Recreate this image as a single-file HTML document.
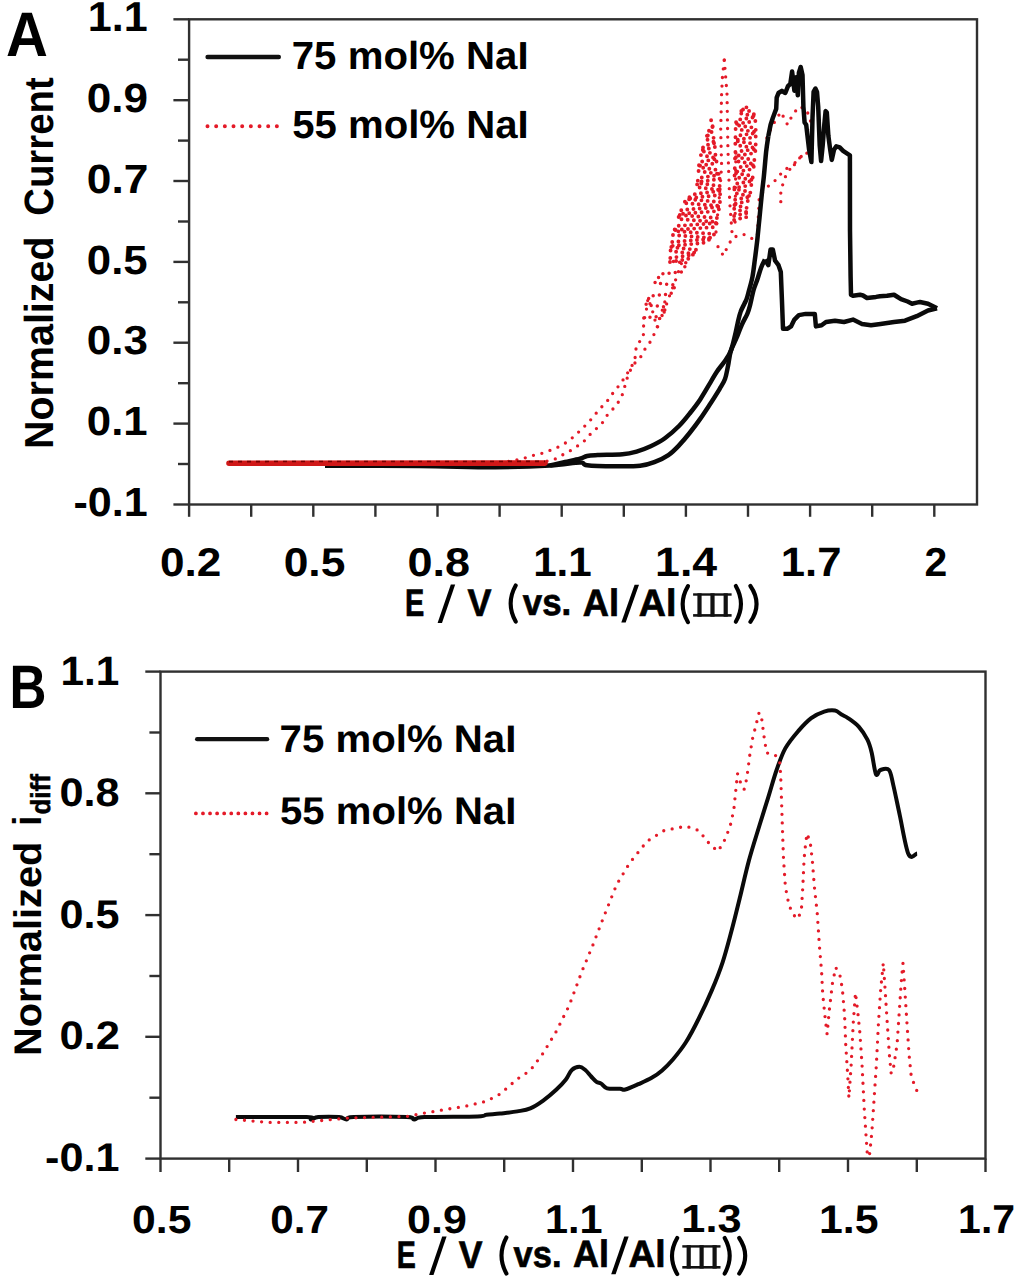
<!DOCTYPE html>
<html><head><meta charset="utf-8"><style>
html,body{margin:0;padding:0;background:#fff;width:1018px;height:1280px;overflow:hidden}
svg{display:block}
text{font-family:"Liberation Sans", sans-serif;font-weight:bold;fill:#000;text-rendering:geometricPrecision}
</style></head><body>
<svg width="1018" height="1280" viewBox="0 0 1018 1280">
<g stroke-linecap="butt">
<rect x="189.1" y="19.3" width="787.9" height="485.2" fill="none" stroke="#303030" stroke-width="2.4"/>
<line x1="173.4" y1="19.3" x2="189.1" y2="19.3" stroke="#303030" stroke-width="2.4"/>
<line x1="178.0" y1="59.7" x2="189.1" y2="59.7" stroke="#303030" stroke-width="2.4"/>
<line x1="173.4" y1="100.2" x2="189.1" y2="100.2" stroke="#303030" stroke-width="2.4"/>
<line x1="178.0" y1="140.6" x2="189.1" y2="140.6" stroke="#303030" stroke-width="2.4"/>
<line x1="173.4" y1="181.0" x2="189.1" y2="181.0" stroke="#303030" stroke-width="2.4"/>
<line x1="178.0" y1="221.5" x2="189.1" y2="221.5" stroke="#303030" stroke-width="2.4"/>
<line x1="173.4" y1="261.9" x2="189.1" y2="261.9" stroke="#303030" stroke-width="2.4"/>
<line x1="178.0" y1="302.3" x2="189.1" y2="302.3" stroke="#303030" stroke-width="2.4"/>
<line x1="173.4" y1="342.7" x2="189.1" y2="342.7" stroke="#303030" stroke-width="2.4"/>
<line x1="178.0" y1="383.2" x2="189.1" y2="383.2" stroke="#303030" stroke-width="2.4"/>
<line x1="173.4" y1="423.6" x2="189.1" y2="423.6" stroke="#303030" stroke-width="2.4"/>
<line x1="178.0" y1="464.0" x2="189.1" y2="464.0" stroke="#303030" stroke-width="2.4"/>
<line x1="173.4" y1="504.5" x2="189.1" y2="504.5" stroke="#303030" stroke-width="2.4"/>
<line x1="189.1" y1="504.5" x2="189.1" y2="516.8" stroke="#303030" stroke-width="2.4"/>
<line x1="251.2" y1="504.5" x2="251.2" y2="516.8" stroke="#303030" stroke-width="2.4"/>
<line x1="313.3" y1="504.5" x2="313.3" y2="516.8" stroke="#303030" stroke-width="2.4"/>
<line x1="375.4" y1="504.5" x2="375.4" y2="516.8" stroke="#303030" stroke-width="2.4"/>
<line x1="437.5" y1="504.5" x2="437.5" y2="516.8" stroke="#303030" stroke-width="2.4"/>
<line x1="499.6" y1="504.5" x2="499.6" y2="516.8" stroke="#303030" stroke-width="2.4"/>
<line x1="561.7" y1="504.5" x2="561.7" y2="516.8" stroke="#303030" stroke-width="2.4"/>
<line x1="623.8" y1="504.5" x2="623.8" y2="516.8" stroke="#303030" stroke-width="2.4"/>
<line x1="685.9" y1="504.5" x2="685.9" y2="516.8" stroke="#303030" stroke-width="2.4"/>
<line x1="748.0" y1="504.5" x2="748.0" y2="516.8" stroke="#303030" stroke-width="2.4"/>
<line x1="810.1" y1="504.5" x2="810.1" y2="516.8" stroke="#303030" stroke-width="2.4"/>
<line x1="872.2" y1="504.5" x2="872.2" y2="516.8" stroke="#303030" stroke-width="2.4"/>
<line x1="934.3" y1="504.5" x2="934.3" y2="516.8" stroke="#303030" stroke-width="2.4"/>
<rect x="160.5" y="671.6" width="825.0" height="487.0" fill="none" stroke="#303030" stroke-width="2.4"/>
<line x1="145.3" y1="671.6" x2="160.5" y2="671.6" stroke="#303030" stroke-width="2.4"/>
<line x1="149.4" y1="732.5" x2="160.5" y2="732.5" stroke="#303030" stroke-width="2.4"/>
<line x1="145.3" y1="793.3" x2="160.5" y2="793.3" stroke="#303030" stroke-width="2.4"/>
<line x1="149.4" y1="854.2" x2="160.5" y2="854.2" stroke="#303030" stroke-width="2.4"/>
<line x1="145.3" y1="915.1" x2="160.5" y2="915.1" stroke="#303030" stroke-width="2.4"/>
<line x1="149.4" y1="976.0" x2="160.5" y2="976.0" stroke="#303030" stroke-width="2.4"/>
<line x1="145.3" y1="1036.8" x2="160.5" y2="1036.8" stroke="#303030" stroke-width="2.4"/>
<line x1="149.4" y1="1097.7" x2="160.5" y2="1097.7" stroke="#303030" stroke-width="2.4"/>
<line x1="145.3" y1="1158.6" x2="160.5" y2="1158.6" stroke="#303030" stroke-width="2.4"/>
<line x1="160.5" y1="1158.6" x2="160.5" y2="1172.0" stroke="#303030" stroke-width="2.4"/>
<line x1="229.2" y1="1158.6" x2="229.2" y2="1172.0" stroke="#303030" stroke-width="2.4"/>
<line x1="298.0" y1="1158.6" x2="298.0" y2="1172.0" stroke="#303030" stroke-width="2.4"/>
<line x1="366.8" y1="1158.6" x2="366.8" y2="1172.0" stroke="#303030" stroke-width="2.4"/>
<line x1="435.5" y1="1158.6" x2="435.5" y2="1172.0" stroke="#303030" stroke-width="2.4"/>
<line x1="504.2" y1="1158.6" x2="504.2" y2="1172.0" stroke="#303030" stroke-width="2.4"/>
<line x1="573.0" y1="1158.6" x2="573.0" y2="1172.0" stroke="#303030" stroke-width="2.4"/>
<line x1="641.8" y1="1158.6" x2="641.8" y2="1172.0" stroke="#303030" stroke-width="2.4"/>
<line x1="710.5" y1="1158.6" x2="710.5" y2="1172.0" stroke="#303030" stroke-width="2.4"/>
<line x1="779.2" y1="1158.6" x2="779.2" y2="1172.0" stroke="#303030" stroke-width="2.4"/>
<line x1="848.0" y1="1158.6" x2="848.0" y2="1172.0" stroke="#303030" stroke-width="2.4"/>
<line x1="916.8" y1="1158.6" x2="916.8" y2="1172.0" stroke="#303030" stroke-width="2.4"/>
<line x1="985.5" y1="1158.6" x2="985.5" y2="1172.0" stroke="#303030" stroke-width="2.4"/>
</g>
<g fill="none" stroke-linejoin="round">
<path d="M500.0,463.0 L522.0,458.9 L534.7,454.9 L541.6,453.4 L548.5,451.0 L556.3,448.0 L563.7,444.1 L569.6,440.2 L574.0,436.3 L578.9,431.8 L583.4,427.4 L587.8,423.0 L592.7,417.6 L596.6,412.7 L601.0,407.8 L605.0,402.9 L609.4,398.9 L613.2,392.6 L617.1,388.3 L620.6,382.4 L625.1,377.8 L628.3,371.5 L632.2,365.2 L635.0,359.7 L635.5,350.7 L637.7,343.2 L643.2,338.5 L643.6,330.6 L643.6,322.0 L645.6,313.8 L647.2,305.5 L648.0,298.0 L652.8,312.0 L657.0,327.5 L661.3,313.4 L666.9,295.2" stroke="#e41a28" stroke-width="3.3" stroke-dasharray="0 8.6" stroke-linecap="round"/>
<path d="M530.0,463.5 L545.0,461.5 L553.4,459.8 L559.3,456.9 L564.2,453.9 L570.6,450.5 L576.5,446.6 L582.4,443.1 L586.8,438.2 L590.7,433.8 L595.1,429.9 L599.6,425.5 L604.0,421.0 L606.9,415.6 L611.4,410.7 L615.8,405.8 L619.2,400.9 L622.2,395.0 L624.6,387.1 L626.9,378.9 L630.0,371.0 L634.0,364.0 L640.9,356.6 L644.0,350.3 L647.9,345.6 L651.5,339.7 L655.8,330.6 L658.9,324.4 L659.7,316.5 L663.7,313.8 L667.6,300.8 L672.5,288.1 L676.7,276.9 L681.0,264.2 L683.8,260.0" stroke="#e41a28" stroke-width="3.3" stroke-dasharray="0 8.6" stroke-linecap="round"/>
<path d="M670.0,262.0 L688.0,259.0 L693.6,254.0 L670.5,251.0 L671.0,246.0 L703.0,243.0 L712.4,238.0 L672.8,235.0 L675.1,230.0 L715.4,227.0 L716.9,222.0 L677.6,219.0 L680.2,214.0 L718.4,211.0 L719.9,206.0 L682.7,203.0 L691.0,198.0 L720.1,195.0 L720.1,190.0 L696.2,187.0 L698.0,182.0 L719.7,179.0 L718.3,174.0 L698.5,171.0 L699.0,166.0 L716.9,163.0 L715.6,158.0 L700.4,155.0 L702.6,150.0 L715.0,147.0 L714.4,142.0 L705.1,139.0 L708.0,134.0 L713.4,131.0 L712.2,126.0 L710.2,123.0" stroke="#e41a28" stroke-width="3.9" stroke-dasharray="0 6.2" stroke-linecap="round"/>
<path d="M670.3,258.0 L690.8,255.0 L697.7,250.0 L670.8,247.0 L671.6,242.0 L708.3,239.0 L714.6,234.0 L673.9,231.0 L676.4,226.0 L716.1,223.0 L717.6,218.0 L678.9,215.0 L681.4,210.0 L719.2,207.0 L720.1,202.0 L686.4,199.0 L695.1,194.0 L720.1,191.0 L720.1,186.0 L697.4,183.0 L698.3,178.0 L719.0,175.0 L717.6,170.0 L698.8,167.0 L699.3,162.0 L716.2,159.0 L715.3,154.0 L701.5,151.0 L703.7,146.0 L714.7,143.0 L714.0,138.0 L706.6,135.0 L709.4,130.0 L712.8,127.0 L711.6,122.0 L710.8,119.0" stroke="#e41a28" stroke-width="3.9" stroke-dasharray="0 6.2" stroke-linecap="round"/>
<path d="M734.1,220.0 L746.7,217.0 L746.7,212.0 L734.2,209.0 L734.3,204.0 L748.0,201.0 L749.7,196.0 L734.3,193.0 L734.4,188.0 L751.3,185.0 L752.5,180.0 L734.5,177.0 L734.7,172.0 L753.4,169.0 L754.2,164.0 L734.9,161.0 L735.1,156.0 L755.1,153.0 L755.7,148.0 L735.3,145.0 L735.4,140.0 L755.7,137.0 L755.7,132.0 L735.6,129.0 L735.8,124.0 L755.7,121.0 L754.0,116.0 L738.6,113.0 L745.1,108.0 L751.4,105.0" stroke="#e41a28" stroke-width="3.9" stroke-dasharray="0 6.2" stroke-linecap="round"/>
<path d="M734.1,216.0 L746.7,213.0 L747.2,208.0 L734.2,205.0 L734.3,200.0 L748.8,197.0 L750.5,192.0 L734.4,189.0 L734.5,184.0 L752.1,181.0 L752.9,176.0 L734.6,173.0 L734.8,168.0 L753.8,165.0 L754.6,160.0 L735.0,157.0 L735.2,152.0 L755.5,149.0 L755.7,144.0 L735.4,141.0 L735.5,136.0 L755.7,133.0 L755.7,128.0 L735.7,125.0 L736.4,120.0 L755.4,117.0 L752.7,112.0 L740.9,109.0" stroke="#e41a28" stroke-width="3.9" stroke-dasharray="0 6.2" stroke-linecap="round"/>
<path d="M643.8,318.0 L661.8,316.0 L666.3,307.0 L645.8,305.0 L649.8,296.0 L670.8,294.0 L675.8,285.0 L654.8,283.0 L660.9,274.0 L681.3,272.0 L687.4,263.0 L669.2,261.0" stroke="#e41a28" stroke-width="3.5" stroke-dasharray="0 6.2" stroke-linecap="round"/>
<path d="M716.0,232.0 L717.1,219.7 L719.8,192.8 L721.6,165.8 L720.7,129.9 L721.6,93.9 L722.5,75.9 L724.3,59.8" stroke="#e41a28" stroke-width="3.3" stroke-dasharray="0 8.6" stroke-linecap="round"/>
<path d="M724.3,59.8 L727.0,93.9 L727.9,147.8 L729.7,201.7 L732.4,237.7" stroke="#e41a28" stroke-width="3.3" stroke-dasharray="0 8.6" stroke-linecap="round"/>
<path d="M735.9,153.2 L735.0,228.7" stroke="#e41a28" stroke-width="3.3" stroke-dasharray="0 8.6" stroke-linecap="round"/>
<path d="M718.0,246.7 L723.4,255.7 L726.0,250.0 L732.4,237.7 L743.1,234.1 L753.9,239.5 L757.5,234.1" stroke="#e41a28" stroke-width="3.3" stroke-dasharray="0 8.6" stroke-linecap="round"/>
<path d="M757.5,234.1 L759.3,196.4 L766.0,188.0 L775.5,180.2 L784.5,169.4 L793.5,165.8 L800.6,156.8 L810.0,151.4 L812.5,140.6 L810.2,118.0 L805.7,108.9 L798.9,106.6 L792.1,115.7 L787.6,124.8 L780.9,111.9 L771.9,126.3 L766.0,140.0" stroke="#e41a28" stroke-width="3.3" stroke-dasharray="0 8.6" stroke-linecap="round"/>
<path d="M801.2,156.5 L792.1,165.5 L785.3,176.9 L780.8,190.5 L780.8,206.3" stroke="#e41a28" stroke-width="3.3" stroke-dasharray="0 8.6" stroke-linecap="round"/>
<path d="M325.0,465.8 C340.8,465.8 391.7,465.8 420.0,466.0 C448.3,466.2 473.3,467.3 495.0,467.2 C516.7,467.1 535.8,466.3 550.0,465.5 C564.2,464.7 573.8,462.4 580.0,462.4 C586.2,462.3 581.2,464.5 587.1,465.2 C593.0,465.9 606.6,466.2 615.4,466.3 C624.2,466.4 633.6,466.5 640.1,465.8 C646.6,465.1 649.6,464.0 654.3,462.2 C659.0,460.4 664.3,457.9 668.4,455.1 C672.5,452.3 675.5,449.1 679.0,445.4 C682.5,441.7 686.1,437.4 689.6,433.0 C693.1,428.6 696.7,423.9 700.2,418.9 C703.7,413.9 707.5,408.0 710.8,403.0 C714.0,398.0 717.3,392.8 719.7,388.8 C722.1,384.8 723.6,382.8 725.0,379.0 C726.4,375.2 727.0,370.7 728.0,366.0 C729.0,361.3 729.4,355.6 730.8,351.0 C732.2,346.4 734.5,342.9 736.3,338.5 C738.1,334.1 740.0,328.9 741.8,324.8 C743.6,320.7 745.9,317.0 747.3,313.8 C748.7,310.6 749.0,309.5 750.0,305.5 C751.0,301.5 752.4,294.4 753.6,290.0 C754.9,285.6 756.3,282.7 757.5,279.0 C758.7,275.3 759.8,271.2 761.0,268.0 C762.2,264.8 764.2,261.0 764.9,259.6" stroke="#0a0a0a" stroke-width="4.5"/>
<path d="M764.9,259.6 L768.3,265.2 L770.6,249.4 L772.8,249.4 L775.1,260.7 L778.5,265.2 L780.8,272.0 L781.9,299.2 L783.0,328.7 L787.6,328.7 L791.0,326.4 L794.4,319.6 L798.9,315.1 L805.7,313.9 L814.8,313.9 L815.9,326.4 L821.6,325.3 L826.0,322.0 L835.0,320.7 L844.0,322.0 L853.0,319.6 L862.0,324.0 L871.0,325.3 L880.5,324.0 L894.0,322.0 L905.0,320.7 L916.7,316.2 L928.0,310.5 L937.0,308.3" stroke="#0a0a0a" stroke-width="4.5"/>
<path d="M937.0,308.3 L928.0,303.7 L920.0,302.0 L916.7,302.6 L912.0,303.7 L907.6,301.5 L901.0,299.2 L896.0,296.0 L894.0,294.7 L887.0,295.8 L880.0,296.2 L876.0,296.9 L867.0,298.0 L863.0,295.5 L860.0,294.7 L853.0,295.8 L851.0,294.7 L850.6,276.6 L850.0,231.0 L849.9,155.3 L846.5,153.1 L843.1,150.8 L839.7,147.4 L836.3,146.3 L834.0,149.7 L831.8,159.9 L830.2,149.7 L828.4,136.1 L826.8,112.3 L825.6,111.2 L824.3,124.8 L822.7,145.2 L821.1,161.0 L819.7,145.2 L818.2,106.6 L817.0,91.9 L815.4,88.5 L813.6,91.9 L812.5,118.0 L811.4,162.1 L809.1,149.7 L807.5,136.1 L806.2,124.8 L804.6,122.5 L803.4,106.6 L802.5,74.9 L800.7,67.0 L798.9,72.7 L797.8,95.3 L796.2,77.2 L794.4,90.8 L792.1,71.5 L790.3,84.0 L788.0,86.2 L785.3,93.0 L781.9,90.8 L778.5,93.0 L776.7,97.6 L776.2,108.9 L772.8,118.0 L770.6,124.8 L768.3,136.1" stroke="#0a0a0a" stroke-width="4.5"/>
<path d="M768.3,136.1 C767.9,138.7 766.9,145.1 766.1,151.9 C765.4,158.7 764.6,169.3 763.8,176.9 C763.0,184.5 762.2,190.1 761.5,197.3 C760.8,204.5 760.0,212.4 759.3,219.9 C758.5,227.4 757.8,235.8 757.0,242.6 C756.2,249.4 755.5,255.0 754.7,260.7 C754.0,266.4 753.4,271.7 752.5,276.6 C751.6,281.5 750.1,286.4 749.1,290.1 C748.1,293.8 747.4,296.8 746.6,299.0 C745.8,301.2 745.5,301.3 744.5,303.5 C743.5,305.7 741.5,309.1 740.4,312.4 C739.2,315.7 738.5,319.5 737.6,323.4 C736.7,327.3 736.0,331.2 734.9,335.8 C733.8,340.4 732.4,346.8 730.8,350.9 C729.2,355.0 727.6,357.1 725.3,360.5 C723.0,363.9 719.4,367.9 717.0,371.5 C714.6,375.1 713.6,377.2 710.8,381.8 C708.0,386.4 703.7,394.1 700.2,399.4 C696.7,404.7 693.1,409.2 689.6,413.6 C686.1,418.0 683.1,421.9 679.0,426.0 C674.9,430.1 669.6,434.9 664.9,438.3 C660.2,441.7 655.4,444.1 650.7,446.3 C646.0,448.5 641.3,450.3 636.6,451.6 C631.9,452.9 628.9,453.7 622.4,454.3 C615.9,454.9 603.6,454.8 597.7,455.1 C591.8,455.4 590.1,455.4 587.1,456.0 C584.1,456.6 583.7,457.7 580.0,458.7 C576.3,459.7 570.0,460.9 565.0,462.0 C560.0,463.1 552.5,464.9 550.0,465.5" stroke="#0a0a0a" stroke-width="4.5"/>
<path d="M229,463.3 L545,463.1" stroke="#d01818" stroke-width="5.6" stroke-linecap="round"/>
<path d="M229,461.6 L545,461.4" stroke="#700" stroke-width="1.6" stroke-dasharray="4 5"/>
<path d="M235.9,1117.1 C247.7,1117.1 294.1,1116.7 306.6,1117.1 C319.1,1117.5 309.0,1119.5 311.0,1119.5 C313.0,1119.5 313.7,1117.5 318.4,1117.1 C323.1,1116.7 334.3,1116.7 339.0,1117.1 C343.7,1117.5 343.9,1119.5 346.4,1119.5 C348.9,1119.5 343.7,1117.5 353.8,1117.1 C363.9,1116.7 396.7,1116.7 406.8,1117.1 C416.9,1117.5 411.2,1119.5 414.2,1119.5 C417.1,1119.5 413.9,1117.6 424.5,1117.1 C435.1,1116.6 467.3,1116.9 477.6,1116.5 C487.9,1116.1 482.7,1115.3 486.4,1114.8 C490.1,1114.3 494.9,1114.2 500.0,1113.6 C505.1,1113.0 512.2,1112.3 517.3,1111.4 C522.3,1110.5 526.0,1110.2 530.3,1108.4 C534.6,1106.6 538.9,1103.7 543.2,1100.6 C547.5,1097.5 552.4,1093.3 556.2,1089.8 C560.0,1086.3 563.3,1082.8 565.9,1079.5 C568.5,1076.2 569.5,1072.1 571.8,1070.0 C574.0,1067.9 577.1,1066.8 579.4,1066.8 C581.6,1066.8 583.3,1068.4 585.3,1070.0 C587.3,1071.6 589.3,1074.5 591.2,1076.5 C593.1,1078.5 594.8,1080.6 596.5,1081.8 C598.2,1083.0 599.4,1082.5 601.2,1083.6 C603.0,1084.7 604.0,1087.4 607.1,1088.3 C610.2,1089.2 617.0,1088.6 620.0,1088.8 C623.0,1089.0 622.2,1090.3 625.3,1089.5 C628.3,1088.7 634.0,1086.1 638.3,1084.2 C642.6,1082.3 647.3,1080.4 651.3,1078.1 C655.3,1075.8 658.5,1073.5 662.1,1070.4 C665.7,1067.3 668.9,1064.2 672.9,1059.5 C676.9,1054.8 681.6,1049.1 685.9,1042.3 C690.2,1035.5 694.5,1027.2 698.8,1018.5 C703.1,1009.9 707.8,999.8 711.8,990.4 C715.8,981.0 719.4,972.0 722.6,962.3 C725.8,952.6 728.3,942.8 731.2,932.0 C734.1,921.2 737.0,909.3 739.9,897.5 C742.8,885.7 745.6,872.9 748.8,861.0 C752.0,849.1 756.1,836.5 759.3,826.0 C762.5,815.5 765.1,807.4 768.0,798.1 C770.9,788.8 773.7,778.3 776.6,770.0 C779.5,761.7 781.7,754.9 785.3,748.4 C788.9,741.9 793.9,736.1 798.2,731.1 C802.5,726.1 806.9,721.4 811.2,718.1 C815.5,714.9 820.2,712.9 824.2,711.6 C828.2,710.3 832.1,710.0 835.0,710.5 C837.9,711.0 839.3,713.2 841.5,714.5 C843.7,715.8 845.1,716.1 848.0,718.1 C850.9,720.1 855.5,723.1 858.7,726.7 C861.9,730.3 865.2,735.4 867.4,739.7 C869.6,744.0 870.3,746.9 871.7,752.7 C873.1,758.5 874.5,771.4 876.0,774.3 C877.5,777.2 878.2,770.7 880.4,770.0 C882.6,769.3 886.9,767.5 889.0,770.0 C891.1,772.5 891.5,777.6 893.3,785.1 C895.1,792.6 897.3,803.8 899.8,815.3 C902.3,826.8 905.6,847.9 908.5,854.2 C911.4,860.6 915.7,853.5 917.1,853.4" stroke="#0a0a0a" stroke-width="4.0"/>
<path d="M235.9,1119.5 L268.3,1122.4 L302.2,1122.4 L347.9,1118.0 L406.8,1116.5 L421.6,1113.6 L442.2,1110.0 L465.8,1106.2 L486.4,1101.2 L500.0,1094.1 L517.3,1079.0 L530.3,1070.4 L543.2,1053.1 L556.2,1031.5 L569.2,1005.5 L582.1,970.9 L592.9,945.0 L603.7,916.9 L616.7,884.5 L629.7,862.9 L647.0,841.3 L664.2,830.5 L685.9,826.2 L698.8,830.5 L709.4,843.8 L717.8,851.3 L723.4,842.9 L730.0,826.9 L733.8,810.0 L735.6,792.2 L737.5,773.5 L740.3,781.9 L744.1,789.4 L746.0,781.9 L747.8,770.7 L749.7,755.7 L752.5,738.8 L756.3,723.8 L759.1,712.5 L761.9,720.0 L763.8,735.0 L766.6,752.8 L775.0,754.7 L779.7,761.3 L780.7,776.3 L781.6,802.5 L782.5,830.7 L783.5,858.8 L785.4,887.0 L789.1,905.7 L793.8,915.1 L797.5,918.9 L801.3,911.3 L802.8,887.0 L804.1,858.8 L806.0,840.1 L807.3,833.5 L810.7,845.7 L812.5,862.6 L814.4,887.0 L817.2,912.8 L819.4,945.6 L821.6,971.9 L822.7,993.8 L824.9,1015.6 L827.1,1034.2 L829.2,1011.3 L832.5,982.8 L835.8,967.5 L840.2,976.3 L842.4,989.4 L844.6,1015.6 L845.7,1044.1 L847.8,1076.9 L848.9,1097.7 L851.1,1066.0 L853.3,1022.2 L855.5,992.7 L857.7,1011.3 L859.9,1033.1 L862.1,1066.0 L864.3,1109.7 L866.5,1142.5 L867.5,1156.7 L869.7,1153.5 L871.9,1131.6 L874.1,1098.8 L876.3,1066.0 L878.5,1022.2 L880.7,989.4 L883.3,963.1 L885.1,989.4 L887.2,1022.2 L889.4,1055.0 L891.2,1073.6 L893.8,1066.0 L897.1,1044.1 L899.3,1011.3 L901.5,978.4 L903.0,963.1 L904.8,989.4 L906.9,1022.2 L909.1,1055.0 L911.3,1076.9 L917.9,1093.3" stroke="#e41a28" stroke-width="3.3" stroke-dasharray="0 8.6" stroke-linecap="round"/>
<line x1="207.6" y1="57" x2="278.8" y2="57" stroke="#111" stroke-width="4.4" stroke-linecap="round"/><line x1="207.5" y1="126.2" x2="277.5" y2="126.2" stroke="#e41a28" stroke-width="4.0" stroke-dasharray="0 8.67" stroke-linecap="round"/><line x1="197.1" y1="739.2" x2="267.2" y2="739.2" stroke="#111" stroke-width="4.2" stroke-linecap="round"/><line x1="195.9" y1="813.4" x2="267" y2="813.4" stroke="#e41a28" stroke-width="3.8" stroke-dasharray="0 7.07" stroke-linecap="round"/>
</g>
<g>
<text transform="translate(87.79,31.40) scale(1.0296,1)" font-size="41.86">1.1</text>
<text transform="translate(86.86,111.86) scale(1.0837,1)" font-size="40.68">0.9</text>
<text transform="translate(86.85,192.72) scale(1.0894,1)" font-size="40.68">0.7</text>
<text transform="translate(86.87,273.58) scale(1.0761,1)" font-size="40.68">0.5</text>
<text transform="translate(86.86,354.38) scale(1.0851,1)" font-size="40.59">0.3</text>
<text transform="translate(86.87,435.30) scale(1.0761,1)" font-size="40.68">0.1</text>
<text transform="translate(73.42,516.16) scale(1.0598,1)" font-size="40.68">-0.1</text>
<text transform="translate(159.96,575.81) scale(1.1034,1)" font-size="39.97">0.2</text>
<text transform="translate(283.69,575.81) scale(1.1102,1)" font-size="39.97">0.5</text>
<text transform="translate(407.52,575.81) scale(1.1260,1)" font-size="39.97">0.8</text>
<text transform="translate(533.14,576.20) scale(1.0253,1)" font-size="41.13">1.1</text>
<text transform="translate(655.09,576.20) scale(1.0851,1)" font-size="41.13">1.4</text>
<text transform="translate(780.85,576.20) scale(1.0609,1)" font-size="41.13">1.7</text>
<text transform="translate(924.53,576.20) scale(1.0096,1)" font-size="40.53">2</text>
<text transform="translate(60.43,684.50) scale(1.0346,1)" font-size="40.99">1.1</text>
<text transform="translate(59.39,805.85) scale(1.0862,1)" font-size="39.83">0.8</text>
<text transform="translate(59.39,927.59) scale(1.0838,1)" font-size="39.83">0.5</text>
<text transform="translate(59.38,1049.33) scale(1.0939,1)" font-size="39.83">0.2</text>
<text transform="translate(45.01,1171.07) scale(1.0838,1)" font-size="39.83">-0.1</text>
<text transform="translate(132.11,1232.52) scale(1.0859,1)" font-size="39.27">0.5</text>
<text transform="translate(270.28,1232.52) scale(1.0740,1)" font-size="39.27">0.7</text>
<text transform="translate(407.10,1232.52) scale(1.0936,1)" font-size="39.27">0.9</text>
<text transform="translate(544.94,1232.90) scale(1.0266,1)" font-size="40.41">1.1</text>
<text transform="translate(681.32,1232.46) scale(1.1050,1)" font-size="39.18">1.3</text>
<text transform="translate(819.00,1232.51) scale(1.0740,1)" font-size="39.84">1.5</text>
<text transform="translate(958.12,1232.90) scale(1.0144,1)" font-size="40.41">1.7</text>
<text transform="translate(6.06,55.70) scale(0.9234,1)" font-size="62.79">A</text>
<text transform="translate(9.48,707.80) scale(0.8321,1)" font-size="61.48">B</text>
<text transform="translate(291.77,69.10) scale(1.0286,1)" font-size="39.10">75 mol% NaI</text>
<text transform="translate(292.27,138.10) scale(1.0188,1)" font-size="39.39">55 mol% NaI</text>
<text transform="translate(279.57,751.90) scale(1.0476,1)" font-size="38.37">75 mol% NaI</text>
<text transform="translate(280.07,824.40) scale(1.0454,1)" font-size="38.37">55 mol% NaI</text>
<text transform="translate(40.80,1055.96) rotate(-90) scale(1.0321,1)" font-size="38.52">Normalized</text>
<text transform="translate(40.50,825.69) rotate(-90) scale(0.8893,1)" font-size="40.16">i</text>
<text stroke="#000" stroke-width="0.6" transform="translate(50.43,814.46) rotate(-90) scale(0.9450,1)" font-size="27.37">diff</text>
<text transform="translate(52.60,448.94) rotate(-90) scale(0.9719,1)" font-size="40.55">Normalized</text>
<text transform="translate(52.60,215.77) rotate(-90) scale(0.9353,1)" font-size="40.99">Current</text>
<text stroke="#000" stroke-width="0.7" transform="translate(404.97,615.80) scale(0.7497,1)" font-size="38.52">E</text>
<polygon fill="#000" points="437.6,623.1 442.0,623.1 455.2,584.5 450.8,584.5"/>
<text stroke="#000" stroke-width="0.7" transform="translate(467.55,615.80) scale(0.9339,1)" font-size="38.52">V</text>
<path d="M515.7,585.5 Q505.6,603.5 515.7,621.6" fill="none" stroke="#000" stroke-width="4.1" stroke-linecap="round"/>
<text stroke="#000" stroke-width="0.7" transform="translate(522.86,615.23) scale(0.9320,1)" font-size="37.39">vs.</text>
<text stroke="#000" stroke-width="0.7" transform="translate(582.80,615.50) scale(0.9525,1)" font-size="38.08">Al</text>
<polygon fill="#000" points="621.3,622.4 625.7,622.4 639.0,584.7 634.6,584.7"/>
<text stroke="#000" stroke-width="0.7" transform="translate(638.76,615.50) scale(0.9873,1)" font-size="38.08">Al</text>
<path d="M688.0,586.1 Q677.3,604.2 688.0,622.2" fill="none" stroke="#000" stroke-width="4.1" stroke-linecap="round"/>
<path d="M735.8,586.0 Q746.1,603.9 735.8,621.8" fill="none" stroke="#000" stroke-width="4.1" stroke-linecap="round"/>
<path d="M750.4,586.0 Q762.7,603.9 750.4,621.8" fill="none" stroke="#000" stroke-width="4.1" stroke-linecap="round"/>
<g fill="#111"><rect x="693.1" y="593.3" width="38.5" height="2.4"/><rect x="693.1" y="614.1" width="38.5" height="2.6"/><rect x="697.4" y="593.3" width="4.2" height="23.4"/><rect x="710.4" y="593.3" width="4.2" height="23.4"/><rect x="723.6" y="593.3" width="4.2" height="23.4"/></g>
<text stroke="#000" stroke-width="0.7" transform="translate(396.79,1267.70) scale(0.7421,1)" font-size="38.52">E</text>
<polygon fill="#000" points="429.1,1275.0 433.5,1275.0 446.6,1236.4 442.2,1236.4"/>
<text stroke="#000" stroke-width="0.7" transform="translate(458.81,1267.70) scale(0.9247,1)" font-size="38.52">V</text>
<path d="M506.4,1237.5 Q496.6,1255.5 506.4,1273.5" fill="none" stroke="#000" stroke-width="4.1" stroke-linecap="round"/>
<text stroke="#000" stroke-width="0.7" transform="translate(513.62,1267.13) scale(0.9232,1)" font-size="37.39">vs.</text>
<text stroke="#000" stroke-width="0.7" transform="translate(573.01,1267.40) scale(0.9434,1)" font-size="38.08">Al</text>
<polygon fill="#000" points="611.2,1274.3 615.6,1274.3 628.7,1236.6 624.3,1236.6"/>
<text stroke="#000" stroke-width="0.7" transform="translate(628.48,1267.40) scale(0.9779,1)" font-size="38.08">Al</text>
<path d="M677.2,1238.0 Q666.8,1256.0 677.2,1274.0" fill="none" stroke="#000" stroke-width="4.1" stroke-linecap="round"/>
<path d="M724.7,1238.0 Q734.7,1255.8 724.7,1273.6" fill="none" stroke="#000" stroke-width="4.1" stroke-linecap="round"/>
<path d="M739.2,1238.0 Q751.2,1255.8 739.2,1273.6" fill="none" stroke="#000" stroke-width="4.1" stroke-linecap="round"/>
<g fill="#111"><rect x="682.3" y="1245.2" width="38.2" height="2.4"/><rect x="682.3" y="1266.0" width="38.2" height="2.6"/><rect x="686.6" y="1245.2" width="4.2" height="23.4"/><rect x="699.5" y="1245.2" width="4.2" height="23.4"/><rect x="712.5" y="1245.2" width="4.2" height="23.4"/></g>
</g>
</svg>
</body></html>
